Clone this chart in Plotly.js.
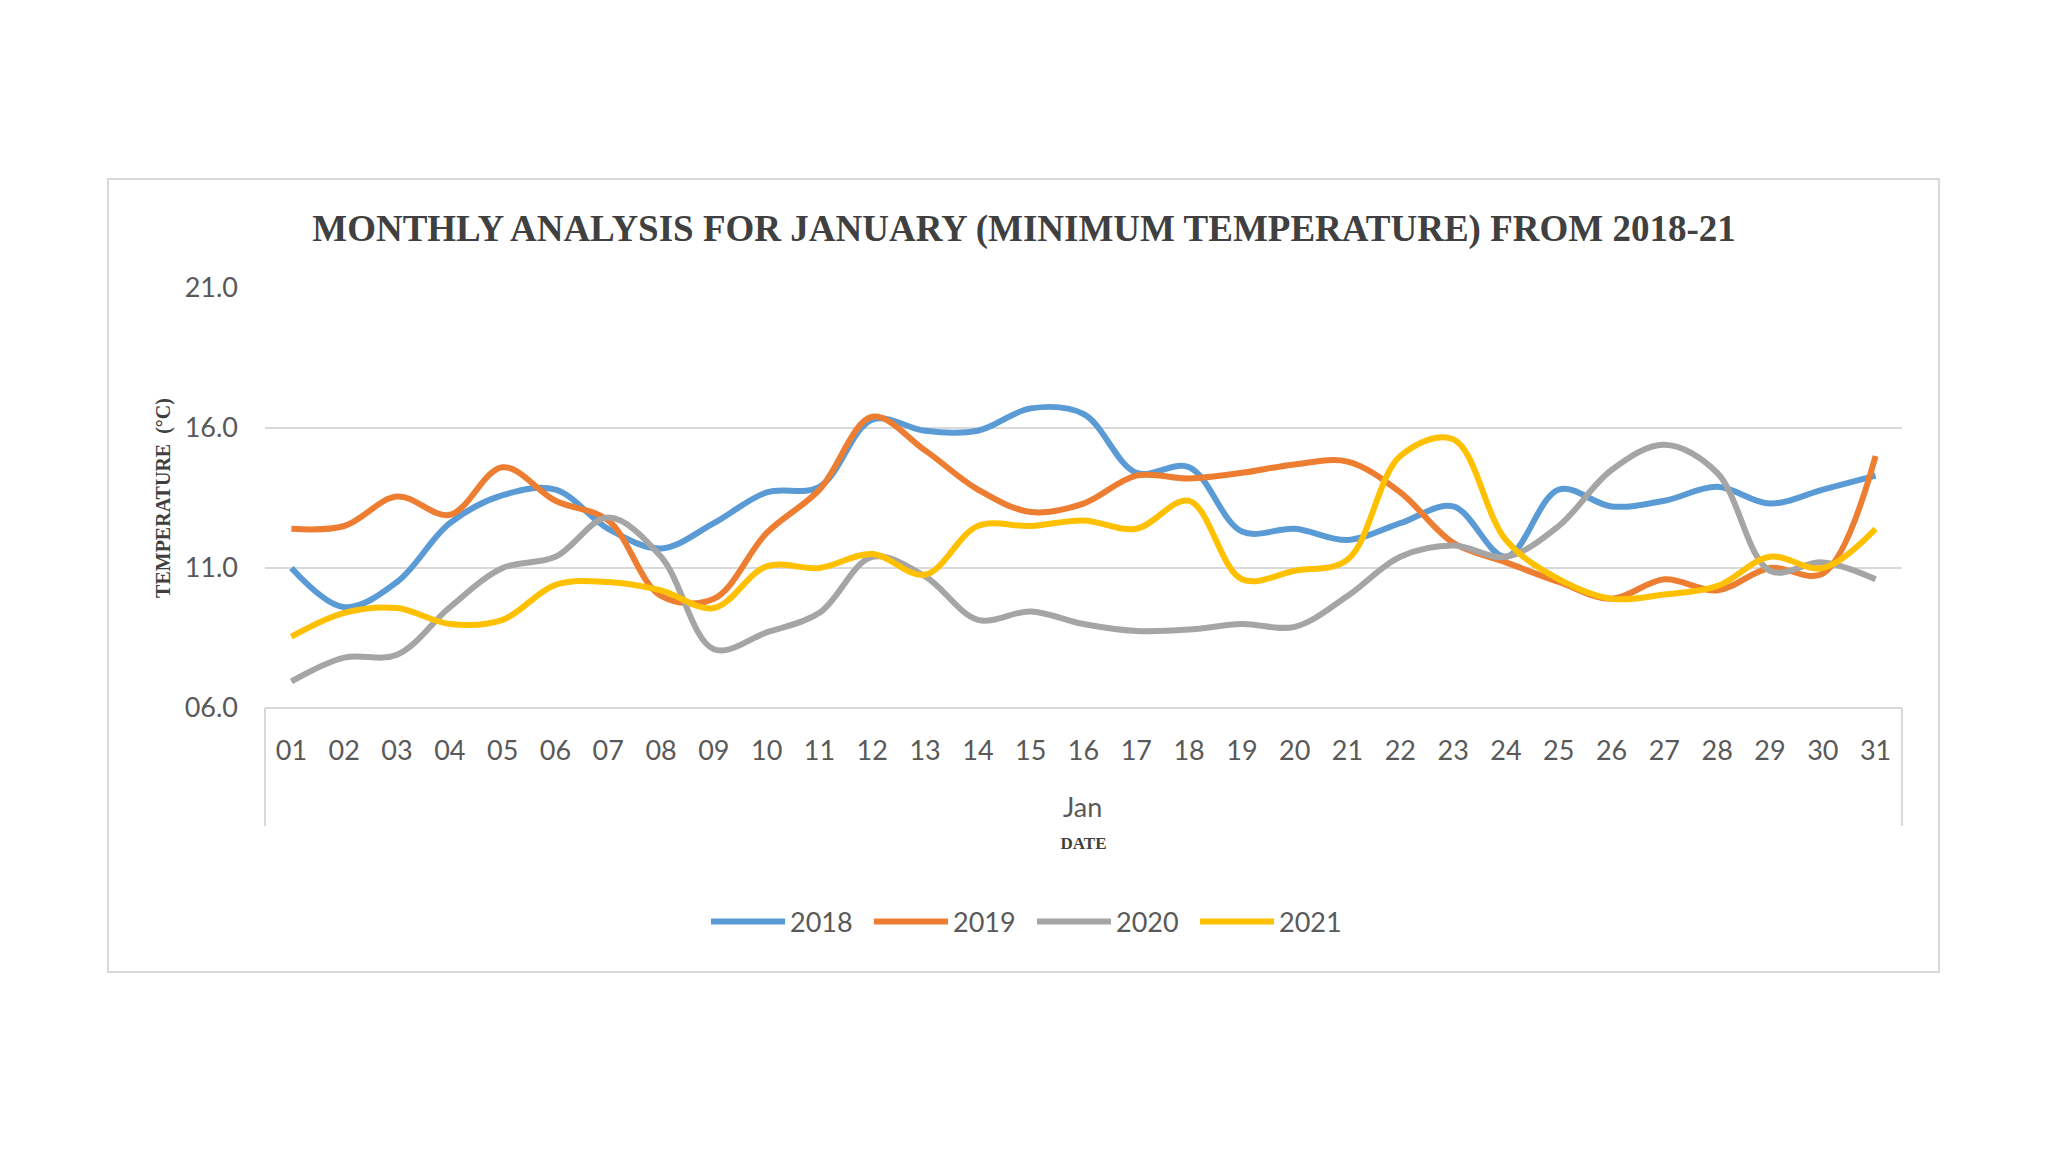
<!DOCTYPE html>
<html>
<head>
<meta charset="utf-8">
<script src="https://cdn.plot.ly/plotly-3.0.1.min.js"></script>
<style>
  html, body { margin: 0; padding: 0; background: #ffffff; }
  #chart { width: 2048px; height: 1152px; }
</style>
</head>
<body>
<div id="chart"></div>
<script>
// ---- Data ----
const days = ["01","02","03","04","05","06","07","08","09","10","11","12","13","14","15","16",
              "17","18","19","20","21","22","23","24","25","26","27","28","29","30","31"];

const series2018 = [11.0, 9.6, 10.5, 12.6, 13.6, 13.8, 12.4, 11.7, 12.6, 13.7, 13.9, 16.3, 15.9, 15.9, 16.7, 16.5,
                    14.4, 14.6, 12.3, 12.4, 12.0, 12.6, 13.2, 11.4, 13.8, 13.2, 13.4, 13.9, 13.3, 13.8, 14.3];
const series2019 = [12.4, 12.5, 13.55, 12.9, 14.6, 13.4, 12.7, 10.0, 9.9, 12.25, 13.8, 16.4, 15.2, 13.8, 13.0, 13.3,
                    14.3, 14.2, 14.4, 14.7, 14.8, 13.7, 11.9, 11.2, 10.5, 9.9, 10.6, 10.2, 11.0, 10.8, 15.0];
const series2020 = [6.95, 7.8, 7.9, 9.6, 11.0, 11.4, 12.8, 11.4, 8.1, 8.7, 9.4, 11.4, 10.7, 9.15, 9.45, 9.0,
                    8.75, 8.8, 9.0, 8.9, 10.0, 11.4, 11.8, 11.4, 12.5, 14.5, 15.4, 14.4, 10.9, 11.2, 10.6];
const series2021 = [8.55, 9.4, 9.57, 9.0, 9.15, 10.4, 10.5, 10.2, 9.57, 11.06, 11.0, 11.5, 10.76, 12.5, 12.5, 12.7,
                    12.4, 13.4, 10.6, 10.9, 11.3, 15.0, 15.6, 12.0, 10.6, 9.9, 10.05, 10.35, 11.4, 11.0, 12.4];

const seriesNames = ["2018", "2019", "2020", "2021"];
const yTickVals = [6, 11, 16, 21];
const yTickText = ["06.0", "11.0", "16.0", "21.0"];

// ---- Styling ----
const colors = ["#5B9BD5", "#ED7D31", "#A5A5A5", "#FFC000"];
const allSeries = [series2018, series2019, series2020, series2021];

const W = 2048, H = 1152;
const plotL = 265, plotR = 1902, plotT = 288, plotB = 708;
const pw = plotR - plotL, ph = plotB - plotT;
const px = v => (v - plotL) / pw;     // page pixel -> paper x
const py = v => (plotB - v) / ph;     // page pixel -> paper y

const tickFont = { family: "Lato, 'Open Sans', sans-serif", size: 27, color: "#595959" };
const serifBold = "'Liberation Serif', 'DejaVu Serif', serif";

const traces = allSeries.map((s, i) => ({
  type: "scatter",
  mode: "lines",
  name: seriesNames[i],
  x: days,
  y: s,
  line: { color: colors[i], width: 6, shape: "spline", smoothing: 1 },
  hoverinfo: "x+y+name"
}));

const layout = {
  width: W, height: H, autosize: false,
  paper_bgcolor: "#ffffff", plot_bgcolor: "#ffffff",
  margin: { l: plotL, r: W - plotR, t: plotT, b: H - plotB, pad: 0 },
  title: {
    text: "<b>MONTHLY ANALYSIS FOR JANUARY (MINIMUM TEMPERATURE) FROM 2018-21</b>",
    font: { family: serifBold, size: 37, color: "#404040" },
    x: 1024 / W, xref: "container", xanchor: "center",
    y: 1 - 228 / H, yref: "container", yanchor: "middle"
  },
  xaxis: {
    type: "category",
    categoryorder: "array", categoryarray: days,
    range: [-0.5, days.length - 0.5],
    tickmode: "array", tickvals: days, ticktext: days,
    showgrid: false, zeroline: false, showline: false, ticks: "",
    tickfont: tickFont,
    ticklabelstandoff: 24,
    title: {
      text: "<b>DATE</b>",
      font: { family: serifBold, size: 17, color: "#404040" },
      standoff: 72
    },
    automargin: false
  },
  yaxis: {
    range: [6, 21],
    tickmode: "array", tickvals: yTickVals, ticktext: yTickText,
    showgrid: true, gridcolor: "#d9d9d9", gridwidth: 2,
    zeroline: false, showline: false, ticks: "",
    tickfont: tickFont,
    ticklabelstandoff: 26,
    title: {
      text: "<b>TEMPERATURE  (°C)</b>",
      font: { family: serifBold, size: 20, color: "#404040" },
      standoff: 8
    },
    automargin: false
  },
  showlegend: true,
  legend: {
    orientation: "h",
    x: px(706), xanchor: "left",
    y: py(922), yanchor: "middle",
    font: tickFont,
    entrywidth: 74, entrywidthmode: "pixels",
    itemwidth: 74,
    bgcolor: "rgba(0,0,0,0)"
  },
  annotations: [
    {
      text: "Jan", xref: "paper", yref: "paper",
      x: px(1082), y: py(806), xanchor: "center", yanchor: "middle",
      showarrow: false, font: tickFont
    }
  ],
  shapes: [
    { type: "rect", xref: "paper", yref: "paper", x0: px(108), x1: px(1939), y0: py(972), y1: py(179),
      line: { color: "#d9d9d9", width: 2 }, fillcolor: "rgba(0,0,0,0)", layer: "below" },
    { type: "line", xref: "paper", yref: "paper", x0: 0, x1: 0, y0: 0, y1: py(826),
      line: { color: "#d9d9d9", width: 2 } },
    { type: "line", xref: "paper", yref: "paper", x0: 1, x1: 1, y0: 0, y1: py(826),
      line: { color: "#d9d9d9", width: 2 } },
    { type: "line", xref: "paper", yref: "paper", x0: 0, x1: 1, y0: 0, y1: 0,
      line: { color: "#d9d9d9", width: 2 }, layer: "below" }
  ]
};

Plotly.newPlot("chart", traces, layout, { displayModeBar: false, staticPlot: true });
</script>
</body>
</html>
